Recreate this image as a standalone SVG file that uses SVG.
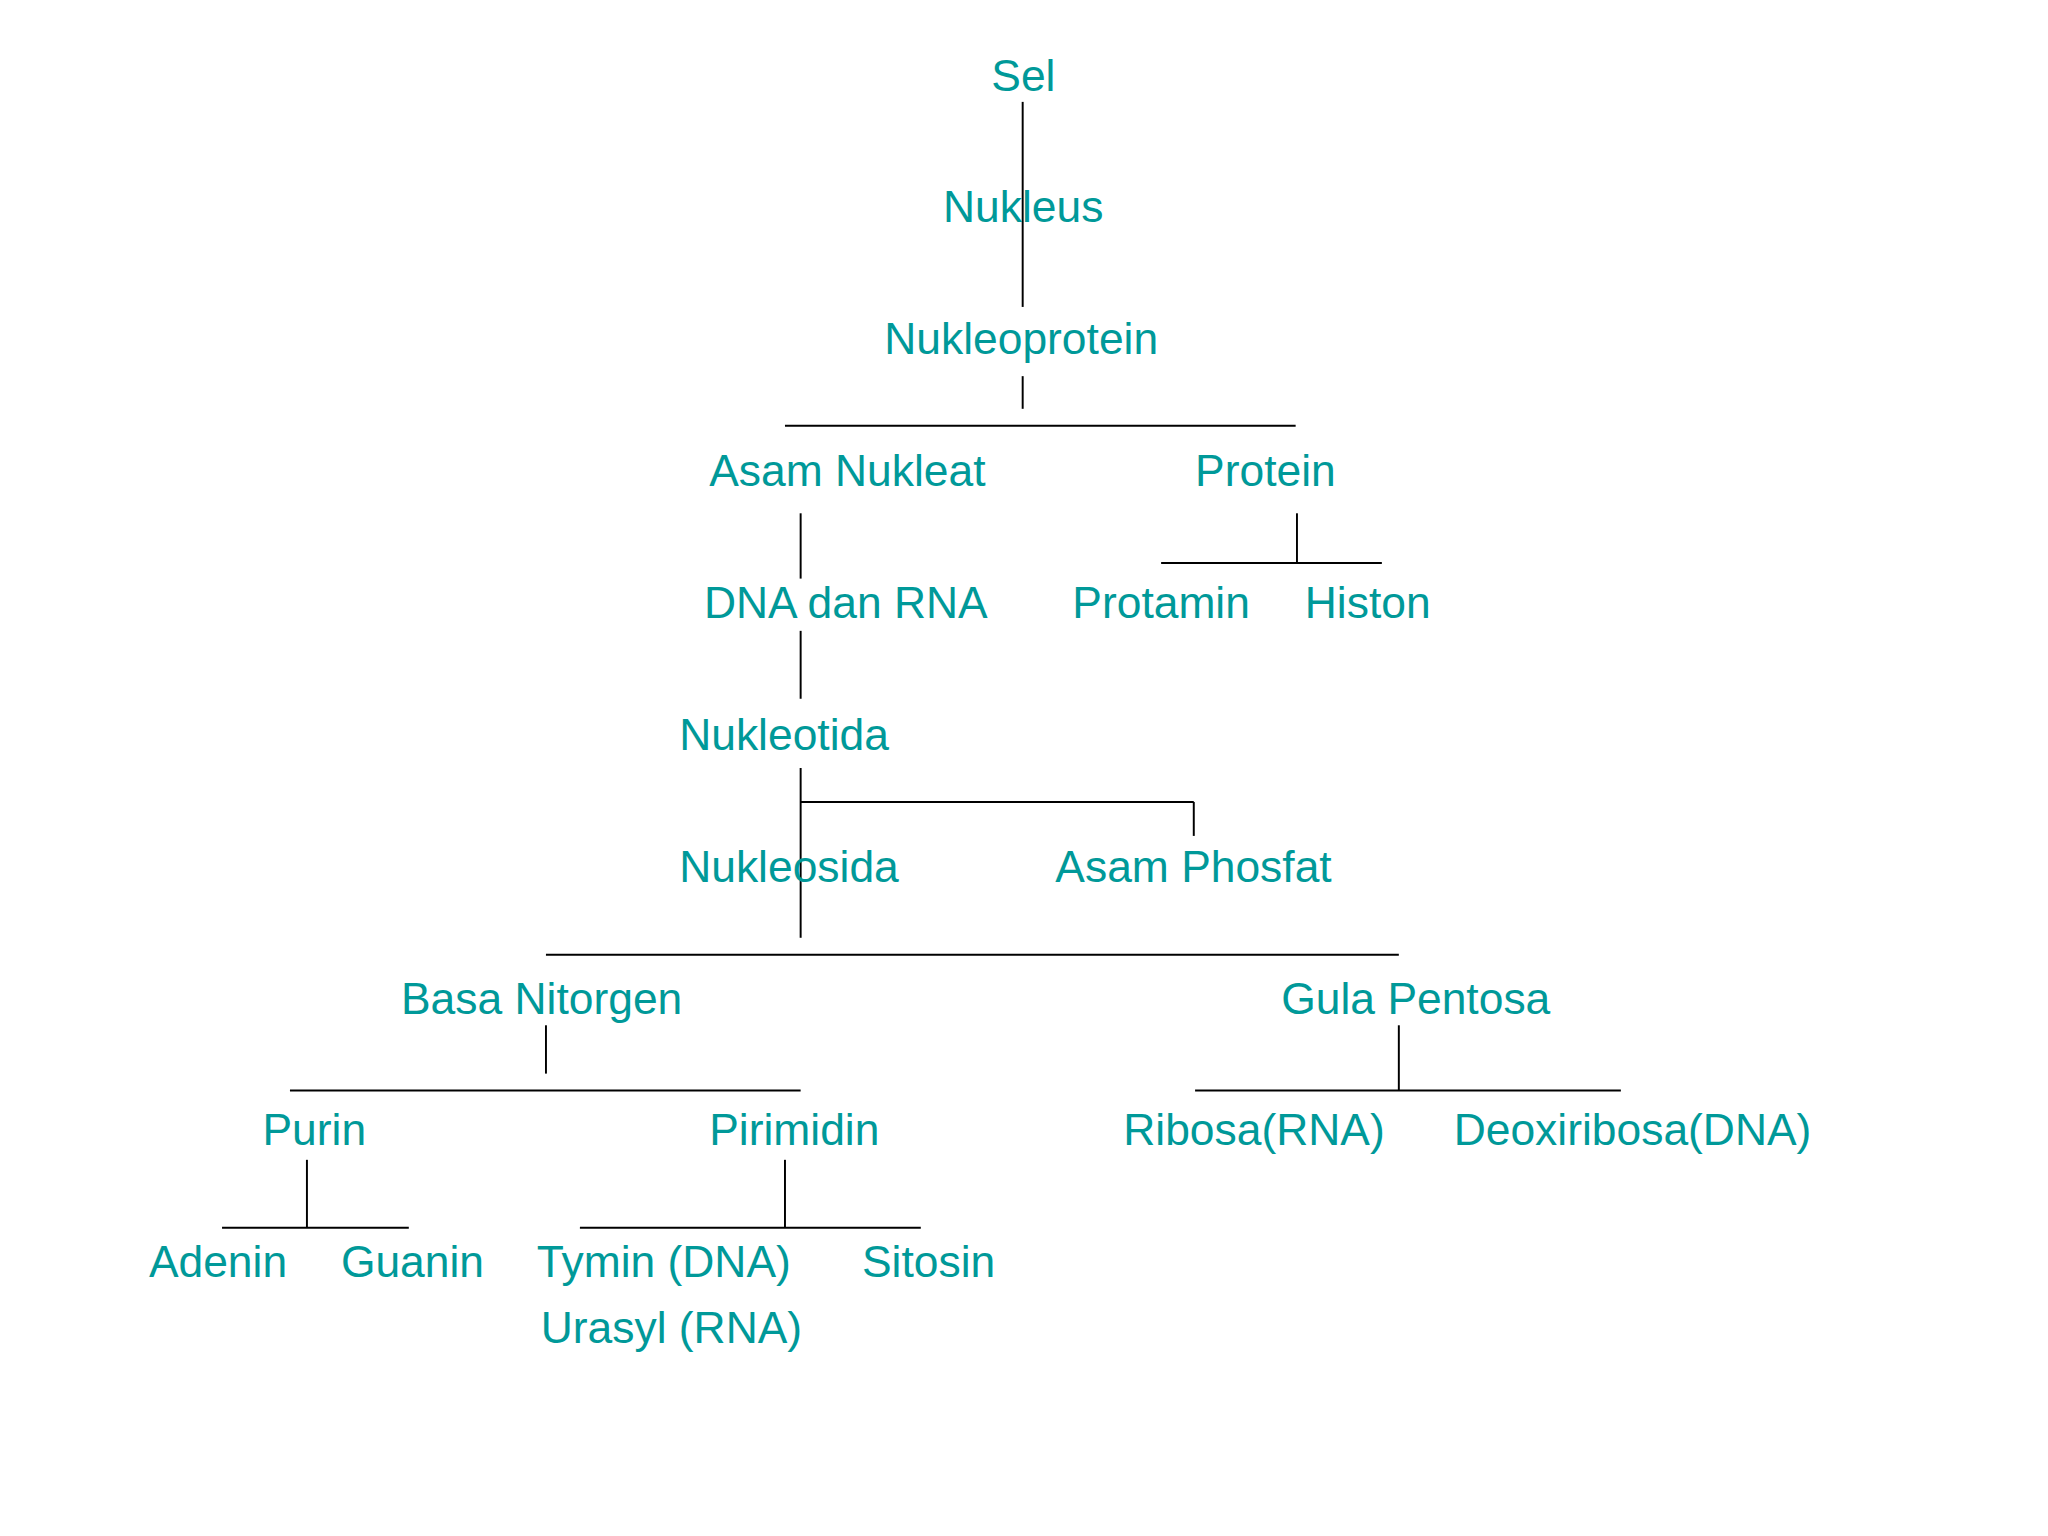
<svg xmlns="http://www.w3.org/2000/svg" width="2048" height="1536" viewBox="0 0 2048 1536">
<style>
text{font-family:"Liberation Sans",Arial,sans-serif;font-size:34px;fill:#009999}
.c line{stroke:#000;stroke-width:1.5}
</style>
<rect width="2048" height="1536" fill="#fff"/>
<g transform="scale(1.3061)">
<g class="c" id="connectors">
<line x1="783" y1="78" x2="783" y2="235"/>
<line x1="783" y1="288" x2="783" y2="313"/>
<line x1="601" y1="326" x2="992" y2="326"/>
<line x1="613" y1="393" x2="613" y2="443"/>
<line x1="613" y1="483" x2="613" y2="535"/>
<line x1="613" y1="588" x2="613" y2="718"/>
<line x1="613" y1="614" x2="914" y2="614"/>
<line x1="914" y1="614" x2="914" y2="640"/>
<line x1="418" y1="731" x2="1071" y2="731"/>
<line x1="418" y1="785" x2="418" y2="822"/>
<line x1="222" y1="835" x2="613" y2="835"/>
<line x1="1071" y1="785" x2="1071" y2="835"/>
<line x1="915" y1="835" x2="1241" y2="835"/>
<line x1="993" y1="393" x2="993" y2="431"/>
<line x1="889" y1="431" x2="1058" y2="431"/>
<line x1="235" y1="888" x2="235" y2="940"/>
<line x1="170" y1="940" x2="313" y2="940"/>
<line x1="601" y1="888" x2="601" y2="940"/>
<line x1="444" y1="940" x2="705" y2="940"/>
</g>
<g id="sel"><text x="759" y="70">Sel</text></g>
<g id="nukleus"><text x="722" y="170">Nukleus</text></g>
<g id="nukleoprotein"><text x="677" y="271">Nukleoprotein</text></g>
<g id="asamnukleat"><text x="543" y="372">Asam Nukleat</text></g>
<g id="protein"><text x="915" y="372">Protein</text></g>
<g id="dnarna"><text x="539" y="473">DNA dan RNA</text></g>
<g id="protamin"><text x="821" y="473">Protamin</text></g>
<g id="histon"><text x="999" y="473">Histon</text></g>
<g id="nukleotida"><text x="520" y="574">Nukleotida</text></g>
<g id="nukleosida"><text x="520" y="675">Nukleosida</text></g>
<g id="asamphosfat"><text x="808" y="675">Asam Phosfat</text></g>
<g id="basa"><text x="307" y="776">Basa Nitorgen</text></g>
<g id="gula"><text x="981" y="776">Gula Pentosa</text></g>
<g id="purin"><text x="201" y="877">Purin</text></g>
<g id="pirimidin"><text x="543" y="877">Pirimidin</text></g>
<g id="ribosa"><text x="860" y="877">Ribosa(RNA)</text></g>
<g id="deoxiribosa"><text x="1113" y="877">Deoxiribosa(DNA)</text></g>
<g id="adenin"><text x="114" y="978">Adenin</text></g>
<g id="guanin"><text x="261" y="978">Guanin</text></g>
<g id="tymin"><text x="411" y="978">Tymin (DNA)</text><text x="414" y="1028">Urasyl (RNA)</text></g>
<g id="sitosin"><text x="660" y="978">Sitosin</text></g>
</g>
</svg>
